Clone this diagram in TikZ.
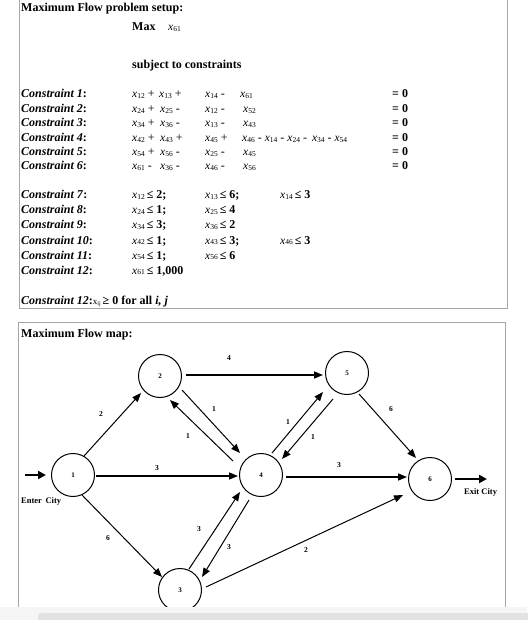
\documentclass[tikz,border=0pt]{standalone}
\usepackage{fontspec}
\setmainfont{Liberation Serif}
\usetikzlibrary{calc,arrows.meta}
\newcommand{\xv}[1]{{\fontsize{11.5}{11.5}\selectfont\itshape x}{\fontsize{7.5}{7.5}\selectfont\raisebox{-0.8pt}{#1}}}
\newcommand{\cl}[1]{\textbf{\textit{Constraint #1}:}}
\begin{document}
\begin{tikzpicture}[x=1pt,y=-1pt,
  txt/.style={anchor=base west, inner sep=0, font=\fontsize{12}{12}\selectfont},
  boxline/.style={draw=gray!70, line width=0.8pt},
  circ/.style={circle, draw, line width=1pt, minimum size=43pt, inner sep=0, font=\fontsize{7}{7}\selectfont\bfseries},
  arr/.style={-{Triangle[length=9pt,width=7pt]}, line width=1pt},
  harr/.style={-{Triangle[length=9pt,width=7pt]}, line width=1.5pt},
  bigarr/.style={-{Triangle[length=8pt,width=8pt]}, line width=2pt},
  lab/.style={font=\fontsize{7.5}{7.5}\selectfont\bfseries, inner sep=0},
  city/.style={anchor=west, inner sep=0, font=\fontsize{8.5}{8.5}\selectfont\bfseries}]
\useasboundingbox (0,0) rectangle (527,620);
\fill[white] (0,0) rectangle (527,620);
% boxes
\draw[boxline] (19,-2) -- (19,308) -- (507,308) -- (507,-2);
\draw[boxline] (18,614) -- (18,322) -- (505,322) -- (505,614);
% ---------- setup text ----------
\node[txt] (title) at (21,12) {\textbf{Maximum Flow problem setup:}};
\node[txt] (max) at (132,31) {\textbf{Max}};
\node[txt] (obj) at (168,31) {\xv{61}};
\node[txt] (subj) at (132,69) {\textbf{subject to constraints}};
% constraints 1-6
\node[txt] (c1) at (21,98) {\cl{1}};
\node[txt] at (132,98) {\xv{12} +};
\node[txt] at (159,98) {\xv{13} +};
\node[txt] at (205,98) {\xv{14} -};
\node[txt] at (240,98) {\xv{61}};
\node[txt] at (392,98) {\textbf{= 0}};
\node[txt] (c2) at (21,112.5) {\cl{2}};
\node[txt] at (132,112.5) {\xv{24} +};
\node[txt] at (160,112.5) {\xv{25} -};
\node[txt] at (205,112.5) {\xv{12} -};
\node[txt] at (243,112.5) {\xv{52}};
\node[txt] at (392,112.5) {\textbf{= 0}};
\node[txt] (c3) at (21,127) {\cl{3}};
\node[txt] at (132,127) {\xv{34} +};
\node[txt] at (160,127) {\xv{36} -};
\node[txt] at (205,127) {\xv{13} -};
\node[txt] at (243,127) {\xv{43}};
\node[txt] at (392,127) {\textbf{= 0}};
\node[txt] (c4) at (21,141.5) {\cl{4}};
\node[txt] at (132,141.5) {\xv{42} +};
\node[txt] at (160,141.5) {\xv{43} +};
\node[txt] at (205,141.5) {\xv{45} +};
\node[txt] at (242,141.5) {\xv{46} - \xv{14} - \xv{24} - \,\xv{34} - \xv{54}};
\node[txt] at (392,141.5) {\textbf{= 0}};
\node[txt] (c5) at (21,155.5) {\cl{5}};
\node[txt] at (132,155.5) {\xv{54} +};
\node[txt] at (160,155.5) {\xv{56} -};
\node[txt] at (205,155.5) {\xv{25} -};
\node[txt] at (243,155.5) {\xv{45}};
\node[txt] at (392,155.5) {\textbf{= 0}};
\node[txt] (c6) at (21,170) {\cl{6}};
\node[txt] at (132,170) {\xv{61} -};
\node[txt] at (160,170) {\xv{36} -};
\node[txt] at (205,170) {\xv{46} -};
\node[txt] at (243,170) {\xv{56}};
\node[txt] at (392,170) {\textbf{= 0}};
% constraints 7-12
\node[txt] (c7) at (21,199) {\cl{7}};
\node[txt] at (132,199) {\xv{12}\,\textbf{≤ 2;}};
\node[txt] at (205,199) {\xv{13}\,\textbf{≤ 6;}};
\node[txt] at (280,199) {\xv{14}\,\textbf{≤ 3}};
\node[txt] (c8) at (21,214) {\cl{8}};
\node[txt] at (132,214) {\xv{24}\,\textbf{≤ 1;}};
\node[txt] at (205,214) {\xv{25}\,\textbf{≤ 4}};
\node[txt] (c9) at (21,228.5) {\cl{9}};
\node[txt] at (132,228.5) {\xv{34}\,\textbf{≤ 3;}};
\node[txt] at (205,228.5) {\xv{36}\,\textbf{≤ 2}};
\node[txt] (c10) at (21,244) {\cl{10}};
\node[txt] at (132,244) {\xv{42}\,\textbf{≤ 1;}};
\node[txt] at (205,244) {\xv{43}\,\textbf{≤ 3;}};
\node[txt] at (280,244) {\xv{46}\,\textbf{≤ 3}};
\node[txt] (c11) at (21,259) {\cl{11}};
\node[txt] at (132,259) {\xv{54}\,\textbf{≤ 1;}};
\node[txt] at (205,259) {\xv{56}\,\textbf{≤ 6}};
\node[txt] (c12) at (21,274) {\cl{12}};
\node[txt] at (132,274) {\xv{61}\,\textbf{≤ 1,000}};
\node[txt] (c13) at (21,304) {\cl{12}{\fontsize{9}{9}\selectfont x\raisebox{-1pt}{\fontsize{6}{6}\selectfont ij}}\,\textbf{≥ 0 for all \textit{i, j}}};
% ---------- map ----------
\node[txt] (maptitle) at (21,337) {\textbf{Maximum Flow map:}};
\node[circ] (n1) at (73,475) {1};
\node[circ] (n2) at (160,376) {2};
\node[circ] (n3) at (180,590) {3};
\node[circ] (n4) at (261,475) {4};
\node[circ] (n5) at (347,373) {5};
\node[circ] (n6) at (430,479) {6};
\coordinate (entry) at (25,475);
\coordinate (exit) at (487,479);
\draw[bigarr] (entry) -- ($(n1)+(-27,0)$);
\draw[bigarr] ($(n6)+(25,0)$) -- (exit);
\node[city] (enter) at (21,501) {Enter\, City};
\node[city] (exitlab) at (464,492) {Exit City};
% edges
\draw[arr] ($(n1)+(11,-19)$) -- ($(n2)+(-19,17)$);
\draw[harr] ($(n2)+(26,-1)$) -- ($(n5)+(-24,2)$);
\draw[arr] ($(n2)+(22,14)$) -- ($(n4)+(-21,-22)$);
\draw[arr] ($(n4)+(-28,-14)$) -- ($(n2)+(10,24)$);
\draw[harr] ($(n1)+(23,1)$) -- ($(n4)+(-23,1)$);
\draw[arr] ($(n4)+(11,-22)$) -- ($(n5)+(-24,19)$);
\draw[arr] ($(n5)+(-14,26)$) -- ($(n4)+(21,-16)$);
\draw[arr] ($(n5)+(12,21)$) -- ($(n6)+(-14,-21)$);
\draw[harr] ($(n4)+(25,2)$) -- ($(n6)+(-23,-2)$);
\draw[arr] ($(n1)+(9,20)$) -- ($(n3)+(-18,-13)$);
\draw[arr] ($(n3)+(9,-21)$) -- ($(n4)+(-21,17)$);
\draw[arr] ($(n4)+(-12,25)$) -- ($(n3)+(22,-13)$);
\draw[arr] ($(n3)+(26,-3)$) -- ($(n6)+(-27,16)$);
% edge labels
\node[lab] at (101,414) {2};
\node[lab] at (229,358) {4};
\node[lab] at (214,409) {1};
\node[lab] at (188,436) {1};
\node[lab] at (157,468) {3};
\node[lab] at (288,422) {1};
\node[lab] at (313,437) {1};
\node[lab] at (391,409) {6};
\node[lab] at (339,465) {3};
\node[lab] at (108,538) {6};
\node[lab] at (199,529) {3};
\node[lab] at (229,547) {3};
\node[lab] at (306,550) {2};
% scrollbar strip
\fill[gray!8] (0,607) rectangle (527,620);
\fill[gray!22, rounded corners=3pt] (38,613) rectangle (530,623);
\end{tikzpicture}
\end{document}
